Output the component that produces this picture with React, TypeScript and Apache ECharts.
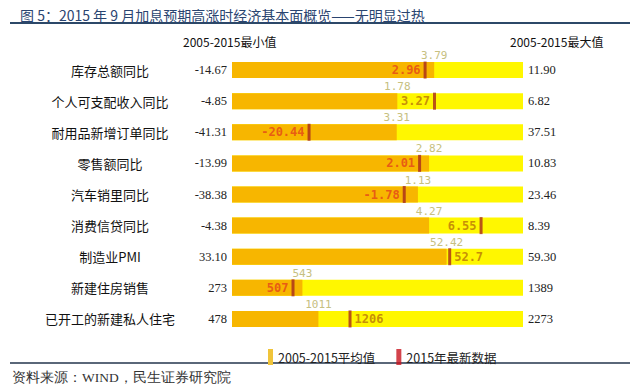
import React, { useEffect, useRef } from "react";
import * as echarts from "echarts";

const categories = [
  "库存总额同比",
  "个人可支配收入同比",
  "耐用品新增订单同比",
  "零售额同比",
  "汽车销里同比",
  "消费信贷同比",
  "制造业PMI",
  "新建住房销售",
  "已开工的新建私人住宅",
];
const minLabels = ["-14.67", "-4.85", "-41.31", "-13.99", "-38.38", "-4.38", "33.10", "273", "478"];
const maxLabels = ["11.90", "6.82", "37.51", "10.83", "23.46", "8.39", "59.30", "1389", "2273"];
const avgVals = [3.79, 1.78, 3.31, 2.82, 1.13, 4.27, 52.42, 543, 1011];
const latestVals = [2.96, 3.27, -20.44, 2.01, -1.78, 6.55, 52.7, 507, 1206];
const latestLabelSide = ["left", "left", "left", "left", "left", "left", "right", "left", "right"];

const SANS = "'Noto Sans CJK SC', 'Noto Sans', sans-serif";
const SERIF = "'Liberation Serif', 'DejaVu Serif', serif";
const MONO = "'DejaVu Sans Mono', 'Liberation Mono', monospace";

export default function App() {
  const ref = useRef<HTMLDivElement>(null);
  useEffect(() => {
    document.body.style.margin = "0";
    const chart = echarts.init(ref.current!, null, { renderer: "svg" });
    const norm = (v: number, i: number) => {
      const mn = Number(minLabels[i]);
      const mx = Number(maxLabels[i]);
      return (v - mn) / (mx - mn);
    };
    const option: any = {
      animation: false,
      backgroundColor: "#ffffff",
      title: {
        text: "图 5：2015 年 9 月加息预期高涨时经济基本面概览——无明显过热",
        left: 15,
        top: 3,
        textStyle: { fontFamily: SANS, fontSize: 14, fontWeight: "normal", color: "#2a4470" },
      },
      legend: {
        left: 263,
        top: 344,
        itemWidth: 5,
        itemHeight: 16,
        itemGap: 21,
        icon: "rect",
        textStyle: { fontFamily: SANS, fontSize: 12.5, color: "#222" },
        data: [
          { name: "2005-2015平均值", itemStyle: { color: "#f0c43a" } },
          { name: "2015年最新数据", itemStyle: { color: "#c8141e" } },
        ],
      },
      grid: { left: 232, right: 117, top: 54.5, bottom: 50.5 },
      xAxis: { type: "value", min: 0, max: 1, show: false },
      yAxis: [
        {
          type: "category",
          inverse: true,
          data: categories,
          axisLine: { show: false },
          axisTick: { show: false },
          axisLabel: {
            margin: 5,
            formatter: (val: string, idx: number) => `{n|${val}}{m|${minLabels[idx]}}`,
            rich: {
              n: { width: 134, align: "center", fontFamily: SANS, fontSize: 13, color: "#111" },
              m: { width: 50, align: "right", fontFamily: SERIF, fontSize: 12.5, color: "#222" },
            },
          },
        },
        {
          type: "category",
          inverse: true,
          position: "right",
          data: categories,
          axisLine: { show: false },
          axisTick: { show: false },
          axisLabel: {
            margin: 5,
            formatter: (_v: string, idx: number) => maxLabels[idx],
            fontFamily: SERIF,
            fontSize: 12.5,
            color: "#222",
          },
        },
      ],
      series: [
        {
          name: "track",
          type: "bar",
          barWidth: 16,
          silent: true,
          itemStyle: { color: "#fff700" },
          data: categories.map(() => 1),
        },
        {
          name: "2005-2015平均值",
          type: "bar",
          barWidth: 16,
          barGap: "-100%",
          silent: true,
          itemStyle: { color: "#f7b600" },
          data: avgVals.map((v, i) => norm(v, i)),
          label: {
            show: true,
            position: ["100%", 0],
            align: "center",
            verticalAlign: "bottom",
            offset: [0, -1],
            formatter: (p: any) => String(avgVals[p.dataIndex]),
            fontFamily: MONO,
            fontSize: 11,
            color: "#c6c080",
          },
        },
        {
          name: "2015年最新数据",
          type: "scatter",
          symbol: "rect",
          symbolSize: [3, 17],
          itemStyle: { color: "#a82a1c" },
          z: 5,
          data: latestVals.map((v, i) => ({
            value: [norm(v, i), i],
            label: {
              show: true,
              position: latestLabelSide[i],
              distance: 3,
              formatter: String(v),
              fontFamily: MONO,
              fontSize: 12,
              fontWeight: "bold",
              color: v < avgVals[i] ? "#e4441a" : "#b87408",
            },
          })),
        },
      ],
      graphic: [
        { type: "line", shape: { x1: 10, y1: 23, x2: 630, y2: 23 }, style: { stroke: "#2c4868", lineWidth: 2 } },
        { type: "line", shape: { x1: 10, y1: 363, x2: 630, y2: 363 }, style: { stroke: "#23344c", lineWidth: 1.5 } },
        {
          type: "text",
          x: 183,
          y: 41,
          style: { text: "2005-2015最小值", fontFamily: SANS, fontSize: 12, fill: "#111", verticalAlign: "middle" },
        },
        {
          type: "text",
          x: 510,
          y: 41,
          style: { text: "2005-2015最大值", fontFamily: SANS, fontSize: 12, fill: "#111", verticalAlign: "middle" },
        },
        {
          type: "text",
          x: 12,
          y: 377,
          style: { text: "资料来源：WIND，民生证券研究院", fontFamily: SERIF, fontSize: 13.5, fill: "#333", verticalAlign: "middle" },
        },
      ],
    };
    chart.setOption(option);
    return () => chart.dispose();
  }, []);
  return <div ref={ref} style={{ width: 640, height: 385 }} />;
}
